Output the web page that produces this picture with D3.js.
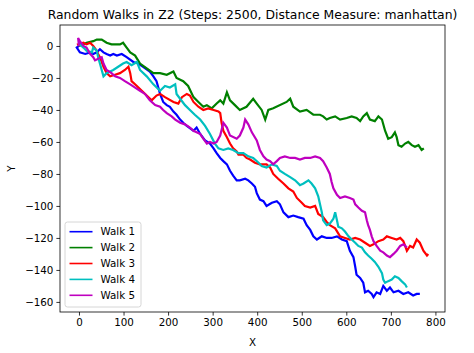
<!DOCTYPE html>
<html>
<head>
<meta charset="utf-8">
<script src="https://cdn.jsdelivr.net/npm/d3@7"></script>
<style>
  html, body { margin: 0; padding: 0; background: #fff; }
  svg { display: block; font-family: "DejaVu Sans", sans-serif; }
</style>
</head>
<body>
<svg id="chart" width="474" height="353"></svg>
<script>
const TITLE = "Random Walks in Z2 (Steps: 2500, Distance Measure: manhattan)";
const seriesNames = ["Walk 1", "Walk 2", "Walk 3", "Walk 4", "Walk 5"];
const seriesColors = ["#0000ff", "#008000", "#ff0000", "#00bfbf", "#bf00bf"];
const xTicks = [0, 100, 200, 300, 400, 500, 600, 700, 800];
const yTicks = [-160, -140, -120, -100, -80, -60, -40, -20, 0];

// Walk waypoints [x, y]
const walk1 = [[0,0],[-5,-1],[2,-4],[14,-5],[25,-4],[32,-5],[40,-4],[47,-2],[55,-4],[62,-5],[70,-6],[77,-5],[85,-6],[96,-5],[107,-7],[122,-10],[133,-11],[144,-13],[159,-16],[167,-19],[174,-22],[178,-26],[182,-30],[189,-35],[197,-37],[204,-38],[212,-41],[219,-43],[227,-46],[234,-48],[242,-50],[257,-53],[264,-51],[272,-55],[283,-59],[294,-61],[302,-64],[309,-67],[317,-70],[324,-72],[332,-74],[339,-78],[346,-81],[354,-84],[361,-84],[373,-83],[380,-84],[388,-86],[395,-88],[399,-92],[406,-96],[414,-97],[421,-100],[433,-98],[444,-97],[451,-99],[459,-104],[470,-107],[481,-106],[492,-107],[504,-108],[511,-112],[519,-115],[526,-119],[534,-121],[545,-119],[556,-120],[567,-120],[579,-119],[590,-121],[601,-122],[608,-128],[616,-132],[620,-138],[623,-143],[631,-145],[638,-148],[642,-154],[649,-153],[657,-155],[661,-157],[668,-154],[676,-155],[683,-150],[691,-153],[698,-151],[706,-154],[717,-153],[728,-155],[739,-154],[750,-156],[758,-155],[765,-155]];
const walk2 = [[0,0],[17,2],[32,3],[40,4],[51,4],[62,2],[73,1],[81,1],[92,1],[99,2],[107,-1],[115,-4],[126,-6],[137,-11],[152,-14],[167,-17],[182,-17],[197,-18],[212,-16],[219,-20],[234,-22],[245,-25],[257,-32],[268,-35],[279,-38],[287,-37],[298,-39],[309,-36],[317,-34],[324,-36],[332,-29],[339,-34],[350,-37],[361,-40],[376,-38],[391,-33],[399,-36],[410,-40],[418,-46],[425,-40],[436,-39],[466,-35],[474,-33],[481,-38],[496,-41],[511,-40],[526,-43],[541,-43],[548,-44],[556,-46],[563,-45],[575,-44],[586,-46],[601,-45],[612,-44],[623,-45],[631,-47],[638,-44],[646,-42],[653,-46],[664,-47],[672,-44],[680,-46],[687,-53],[694,-58],[702,-57],[709,-54],[713,-57],[717,-62],[724,-63],[732,-61],[739,-60],[747,-62],[754,-63],[762,-62],[769,-65],[774,-64]];
const walk3 = [[0,0],[-2,1],[10,2],[17,1],[25,2],[32,0],[40,-3],[43,-5],[47,-7],[51,-10],[55,-13],[62,-17],[70,-19],[81,-18],[92,-17],[103,-15],[111,-13],[115,-17],[118,-22],[130,-25],[141,-28],[152,-31],[163,-34],[174,-31],[182,-30],[193,-32],[212,-35],[223,-36],[231,-32],[242,-30],[249,-31],[257,-35],[268,-38],[279,-40],[290,-39],[302,-40],[313,-41],[317,-42],[320,-48],[324,-53],[332,-57],[339,-61],[346,-64],[354,-66],[358,-68],[369,-68],[376,-70],[384,-71],[395,-73],[406,-74],[421,-74],[429,-76],[436,-80],[447,-83],[459,-86],[470,-89],[481,-91],[489,-95],[500,-98],[507,-100],[519,-101],[530,-100],[537,-105],[548,-107],[556,-110],[563,-112],[575,-114],[586,-119],[597,-120],[608,-121],[620,-120],[631,-121],[642,-123],[653,-125],[661,-124],[672,-122],[683,-121],[691,-119],[702,-120],[713,-121],[721,-120],[728,-122],[736,-128],[743,-125],[750,-126],[758,-121],[765,-123],[773,-128],[781,-131],[784,-130]];
const walk4 = [[0,0],[2,1],[10,-1],[17,-3],[29,-4],[32,-1],[40,-3],[43,-7],[47,-11],[51,-15],[55,-19],[62,-17],[77,-15],[88,-13],[99,-11],[107,-10],[118,-12],[130,-10],[137,-15],[152,-19],[167,-24],[182,-28],[193,-25],[204,-26],[216,-24],[219,-30],[227,-33],[238,-37],[249,-40],[260,-43],[272,-46],[283,-50],[294,-55],[305,-61],[313,-64],[324,-65],[335,-64],[346,-65],[358,-67],[369,-67],[380,-69],[391,-70],[403,-73],[410,-75],[421,-76],[433,-74],[444,-75],[451,-78],[462,-80],[474,-82],[485,-84],[496,-87],[504,-86],[515,-84],[522,-86],[530,-89],[537,-94],[545,-104],[548,-109],[556,-112],[563,-111],[571,-108],[575,-104],[579,-109],[582,-113],[590,-114],[597,-116],[605,-119],[612,-121],[620,-123],[627,-125],[635,-126],[642,-129],[649,-131],[657,-133],[664,-135],[672,-138],[680,-142],[683,-146],[687,-148],[694,-147],[702,-146],[709,-144],[717,-145],[724,-147],[732,-149],[736,-151]];
const walk5 = [[0,0],[-2,5],[2,3],[10,0],[17,-1],[25,-5],[32,-7],[36,-9],[43,-8],[51,-7],[55,-11],[62,-15],[73,-17],[81,-19],[92,-20],[103,-22],[115,-24],[126,-26],[137,-28],[148,-30],[159,-34],[171,-37],[182,-38],[189,-40],[197,-42],[208,-44],[216,-46],[227,-48],[238,-49],[249,-51],[257,-53],[264,-54],[272,-55],[279,-58],[287,-61],[294,-60],[302,-61],[309,-60],[317,-56],[324,-48],[332,-51],[339,-56],[354,-58],[361,-56],[369,-51],[373,-46],[380,-49],[388,-54],[399,-59],[406,-65],[414,-69],[421,-71],[429,-72],[436,-74],[444,-72],[451,-70],[462,-69],[474,-70],[485,-70],[496,-71],[507,-70],[519,-70],[530,-69],[541,-70],[548,-72],[556,-76],[563,-80],[567,-85],[571,-89],[579,-93],[586,-95],[597,-94],[608,-95],[616,-96],[620,-99],[627,-101],[635,-103],[642,-104],[646,-109],[649,-112],[653,-115],[657,-119],[661,-122],[668,-125],[676,-128],[683,-129],[691,-131],[698,-132],[706,-130],[713,-128],[721,-125],[728,-124],[732,-125],[736,-126]];
const walks = [walk1, walk2, walk3, walk4, walk5];

const svg = d3.select("#chart");
const W = 474, H = 353;
const m = { left: 60, right: 445, top: 25, bottom: 312 };

const x = d3.scaleLinear().domain([-42.6, 821.5]).range([m.left, m.right]);
const y = d3.scaleLinear().domain([-166.3, 13.1]).range([m.bottom, m.top]);

svg.append("rect").attr("width", W).attr("height", H).attr("fill", "#fff");

// title, explicitly centred over the axes (reference spans x ~40..465)
const title = svg.append("text")
  .attr("x", 0).attr("y", 18.5)
  .attr("text-anchor", "start")
  .attr("font-size", 12.4).attr("fill", "#000")
  .text(TITLE);
const tlen = title.node().getComputedTextLength();
title.attr("x", 252.5 - tlen / 2);

// lines
const clipId = "plotclip";
svg.append("clipPath").attr("id", clipId).append("rect")
  .attr("x", m.left).attr("y", m.top).attr("width", m.right - m.left).attr("height", m.bottom - m.top);

const line = d3.line().x(d => x(d[0])).y(d => y(d[1]));
const g = svg.append("g").attr("clip-path", `url(#${clipId})`);
walks.forEach((w, i) => {
  g.append("path").datum(w)
    .attr("d", line)
    .attr("fill", "none")
    .attr("stroke", seriesColors[i])
    .attr("stroke-width", 2.2)
    .attr("stroke-linejoin", "miter");
});

// axes
const fmt = d3.format("d");
const xAxis = svg.append("g").attr("transform", `translate(0,${m.bottom})`)
  .call(d3.axisBottom(x).tickValues(xTicks).tickSize(3.6).tickPadding(3).tickFormat(fmt));
const yAxis = svg.append("g").attr("transform", `translate(${m.left},0)`)
  .call(d3.axisLeft(y).tickValues(yTicks).tickSize(3.6).tickPadding(3).tickFormat(fmt));
[xAxis, yAxis].forEach(a => {
  a.select(".domain").remove();
  a.selectAll("line").attr("stroke", "#000").attr("stroke-width", 0.8);
  a.selectAll("text").attr("font-size", 10.3).attr("fill", "#000")
    .attr("font-family", "DejaVu Sans, sans-serif");
});

// frame
svg.append("rect")
  .attr("x", m.left).attr("y", m.top)
  .attr("width", m.right - m.left).attr("height", m.bottom - m.top)
  .attr("fill", "none").attr("stroke", "#000").attr("stroke-width", 0.8);

// axis labels
svg.append("text").attr("x", (m.left + m.right) / 2).attr("y", 346)
  .attr("text-anchor", "middle").attr("font-size", 10.3).text("X");
svg.append("text")
  .attr("transform", `translate(15,${(m.top + m.bottom) / 2}) rotate(-90)`)
  .attr("text-anchor", "middle").attr("font-size", 10.3).text("Y");

// legend
const lg = svg.append("g");
lg.append("rect")
  .attr("x", 65).attr("y", 222).attr("width", 76).attr("height", 85)
  .attr("rx", 2.5).attr("fill", "#fff").attr("fill-opacity", 0.8)
  .attr("stroke", "#cccccc").attr("stroke-width", 0.8);
seriesNames.forEach((n, i) => {
  const yy = 231.7 + i * 15.9;
  lg.append("line").attr("x1", 69.5).attr("x2", 92.5).attr("y1", yy).attr("y2", yy)
    .attr("stroke", seriesColors[i]).attr("stroke-width", 1.6);
  lg.append("text").attr("x", 100.5).attr("y", yy + 3.7)
    .attr("font-size", 10.3).attr("fill", "#000").text(n);
});
</script>
</body>
</html>
